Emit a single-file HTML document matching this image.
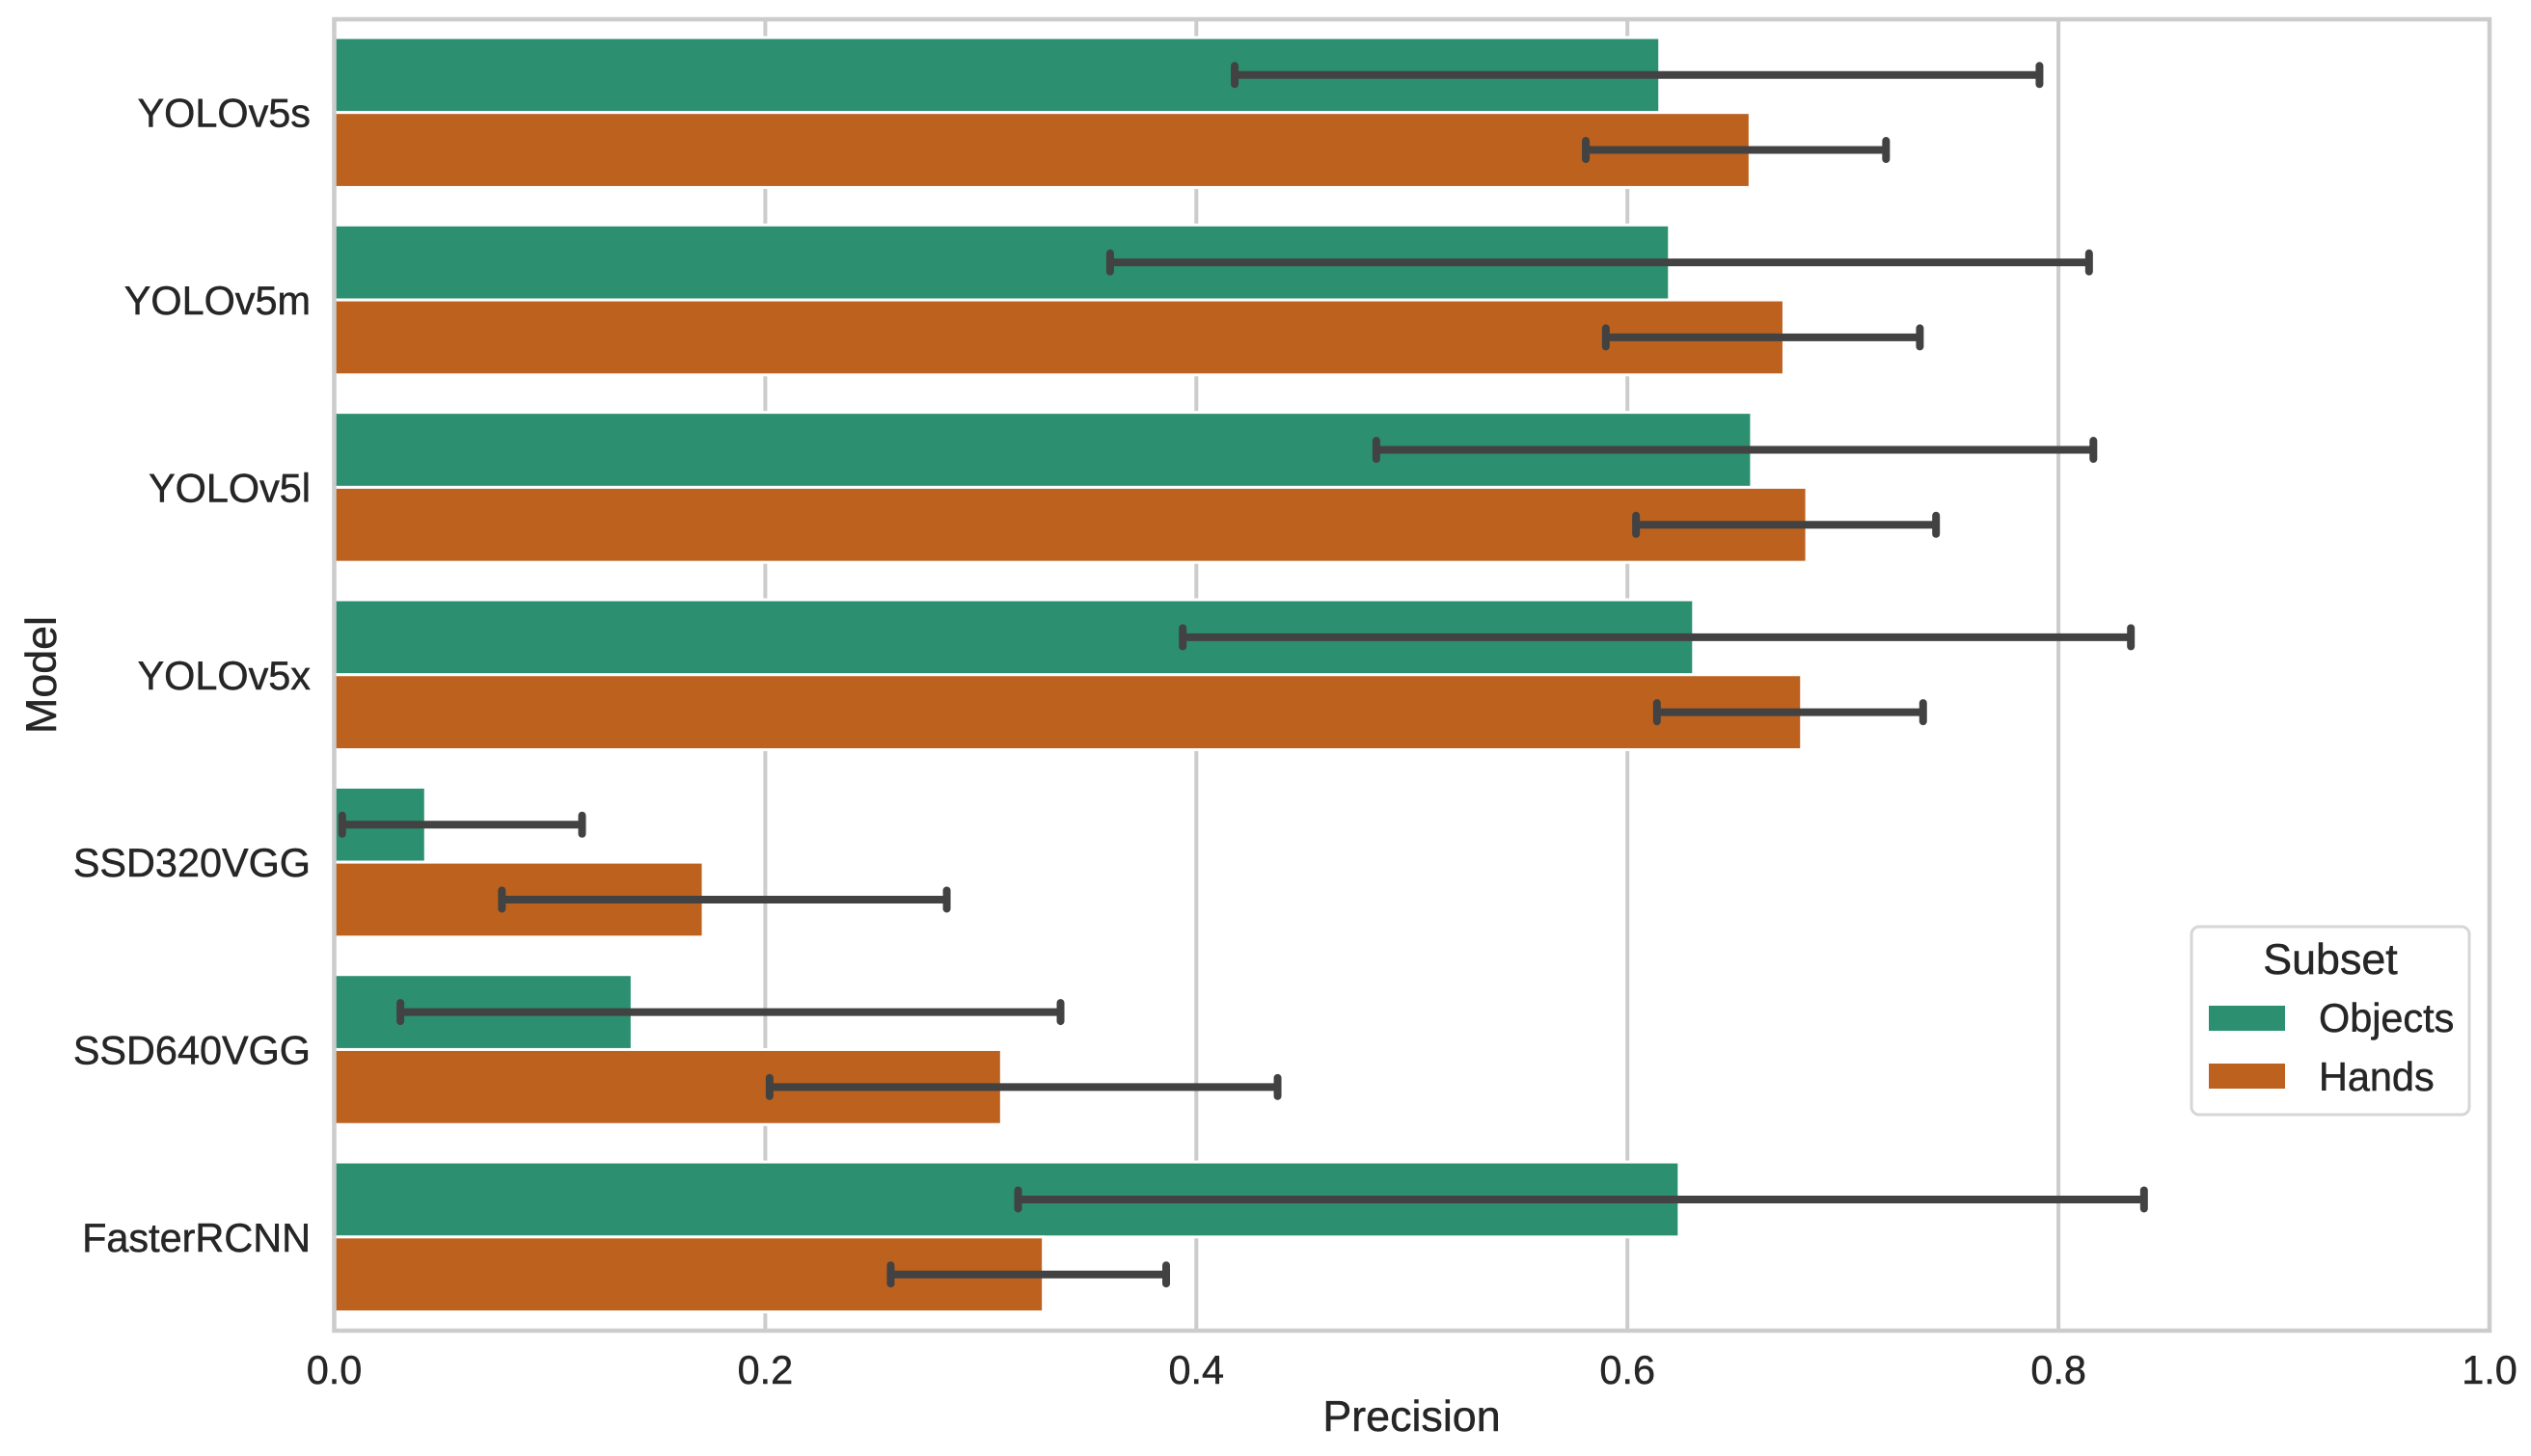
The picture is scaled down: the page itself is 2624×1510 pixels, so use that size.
<!DOCTYPE html>
<html>
<head>
<meta charset="utf-8">
<title>Precision by model</title>
<style>
html,body{margin:0;padding:0;background:#fff;}
svg{display:block;}
text{font-family:"Liberation Sans",Arial,sans-serif;fill:#262626;stroke:#262626;stroke-width:0.5px;}
</style>
</head>
<body>
<svg id="chart" xmlns="http://www.w3.org/2000/svg" width="2624" height="1510" viewBox="0 0 2624 1510">
  <rect x="0" y="0" width="2624" height="1510" fill="#ffffff"/>
  <g id="grid"></g>
  <g id="bars"></g>
  <g id="errors"></g>
  <g id="spines">
    <rect x="346.5" y="20" width="2234.5" height="1360" fill="none" stroke="#cccccc" stroke-width="4.5"/>
  </g>
  <g id="yticks"></g>
  <g id="xticks"></g>
  <text x="1463.5" y="1484" font-size="44.8" text-anchor="middle">Precision</text>
  <text transform="translate(58 700) rotate(-90)" font-size="44.8" text-anchor="middle">Model</text>
  <g>
    <rect x="2272" y="961" width="288" height="195" rx="8" ry="8" fill="#ffffff" fill-opacity="0.8" stroke="#d6d6d6" stroke-width="3"/>
    <text x="2416" y="1010" font-size="44.8" text-anchor="middle">Subset</text>
    <rect x="2290" y="1043" width="79" height="26" fill="#2b8f70"/>
    <text x="2404" y="1070" font-size="41.4">Objects</text>
    <rect x="2290" y="1103" width="79" height="26" fill="#bc611e"/>
    <text x="2404" y="1131" font-size="41.4">Hands</text>
  </g>
</svg>
<script>
const categories = ["YOLOv5s","YOLOv5m","YOLOv5l","YOLOv5x","SSD320VGG","SSD640VGG","FasterRCNN"];
const objectsValues = [0.6150,0.6195,0.6576,0.6307,0.0424,0.1382,0.6240];
const objectsLow = [0.4178,0.3600,0.4835,0.3937,0.0037,0.0307,0.3173];
const objectsHigh = [0.7912,0.8142,0.8162,0.8336,0.1150,0.3370,0.8397];
const handsValues = [0.6569,0.6726,0.6832,0.6808,0.1712,0.3096,0.3290];
const handsLow = [0.5807,0.5900,0.6040,0.6137,0.0778,0.2020,0.2582];
const handsHigh = [0.7200,0.7357,0.7432,0.7372,0.2842,0.4377,0.3860];
const xTickValues = [0,0.2,0.4,0.6,0.8,1];
const xTickLabels = ["0.0","0.2","0.4","0.6","0.8","1.0"];

const NS = "http://www.w3.org/2000/svg";
const plotLeft = 346.5, plotRight = 2581, plotTop = 19.5, plotBottom = 1380;
const band = (plotBottom - plotTop) / categories.length;
const barThickness = band * 0.4;

function xScale(v){ return plotLeft + v * (plotRight - plotLeft); }
function yCenter(i){ return plotTop + band * (i + 0.5); }
function make(tag, attrs, parent){
  const el = document.createElementNS(NS, tag);
  for (const k in attrs) el.setAttribute(k, attrs[k]);
  parent.appendChild(el);
  return el;
}

const gridG = document.getElementById("grid");
const barsG = document.getElementById("bars");
const errG = document.getElementById("errors");
const yG = document.getElementById("yticks");
const xG = document.getElementById("xticks");

xTickValues.forEach(function(v, i){
  const x = xScale(v);
  const line = make("line", {x1:x, x2:x, y1:plotTop, y2:plotBottom, stroke:"#cccccc", "stroke-width":4}, gridG);
  
  
  const t = make("text", {x:x, y:1435, "font-size":41.4, "text-anchor":"middle"}, xG);
  t.textContent = xTickLabels[i];
  
  
});

function drawBar(value, top, color){
  const r = make("rect", {x:plotLeft, y:top, width:xScale(value)-plotLeft, height:barThickness, fill:color, stroke:"#ffffff", "stroke-width":3}, barsG);
  
  
}
function drawError(low, high, y){
  const xa = xScale(low), xb = xScale(high);
  const m = make("line", {x1:xa, x2:xb, y1:y, y2:y, stroke:"#424242", "stroke-width":8}, errG);
  
  
  [xa, xb].forEach(function(x){
    const c = make("line", {x1:x, x2:x, y1:y-9.5, y2:y+9.5, stroke:"#424242", "stroke-width":8, "stroke-linecap":"round"}, errG);
    
    
  });
}

categories.forEach(function(name, i){
  const c = yCenter(i);
  drawBar(objectsValues[i], c - barThickness, "#2b8f70");
  drawBar(handsValues[i], c, "#bc611e");
  drawError(objectsLow[i], objectsHigh[i], c - barThickness / 2);
  drawError(handsLow[i], handsHigh[i], c + barThickness / 2);
  const t = make("text", {x:322, y:c + 15, "font-size":41.4, "text-anchor":"end"}, yG);
  t.textContent = name;
  
  
});
</script>
</body>
</html>
